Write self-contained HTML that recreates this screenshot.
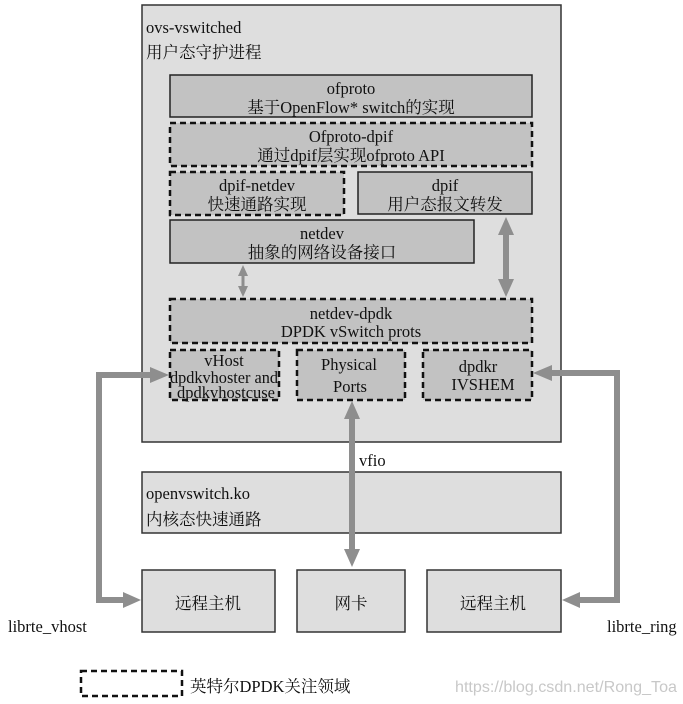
<!DOCTYPE html>
<html><head><meta charset="utf-8"><style>
html,body{margin:0;padding:0;background:#fff;}
svg{display:block;}
text{font-family:"Liberation Serif","Noto Serif CJK SC","Noto Sans CJK SC",serif;font-size:16.5px;fill:#111;}
</style></head><body>
<svg width="683" height="704" viewBox="0 0 683 704" xmlns="http://www.w3.org/2000/svg">
<rect x="142" y="5" width="419" height="437" fill="#dedede" stroke="#333" stroke-width="1.5"/>
<text x="146" y="33">ovs-vswitched</text>
<text x="146" y="58">用户态守护进程</text>

<rect x="170" y="75" width="362" height="42" fill="#c2c2c2" stroke="#222" stroke-width="1.5"/>
<text x="351" y="94" text-anchor="middle">ofproto</text>
<text x="351" y="113" text-anchor="middle">基于OpenFlow* switch的实现</text>

<rect x="170" y="123" width="362" height="43" fill="#c2c2c2" stroke="#111" stroke-width="2.5" stroke-dasharray="6,4"/>
<text x="351" y="142" text-anchor="middle">Ofproto-dpif</text>
<text x="351" y="161" text-anchor="middle">通过dpif层实现ofproto API</text>

<rect x="170" y="172" width="174" height="43" fill="#c2c2c2" stroke="#111" stroke-width="2.5" stroke-dasharray="6,4"/>
<text x="257" y="191" text-anchor="middle">dpif-netdev</text>
<text x="257" y="210" text-anchor="middle">快速通路实现</text>

<rect x="358" y="172" width="174" height="42" fill="#c2c2c2" stroke="#222" stroke-width="1.5"/>
<text x="445" y="191" text-anchor="middle">dpif</text>
<text x="445" y="210" text-anchor="middle">用户态报文转发</text>

<rect x="170" y="220" width="304" height="43" fill="#c2c2c2" stroke="#222" stroke-width="1.5"/>
<text x="322" y="239" text-anchor="middle">netdev</text>
<text x="322" y="258" text-anchor="middle">抽象的网络设备接口</text>

<line x1="243" y1="273" x2="243" y2="289" stroke="#8e8e8e" stroke-width="3"/>
<path d="M238,276 L243,265 L248,276 Z M238,286 L243,297 L248,286 Z" fill="#8e8e8e"/>
<line x1="506" y1="228" x2="506" y2="286" stroke="#8e8e8e" stroke-width="6"/>
<path d="M498,235 L506,217 L514,235 Z M498,279 L506,297 L514,279 Z" fill="#8e8e8e"/>

<rect x="170" y="299" width="362" height="44" fill="#c2c2c2" stroke="#111" stroke-width="2.5" stroke-dasharray="6,4"/>
<text x="351" y="319" text-anchor="middle">netdev-dpdk</text>
<text x="351" y="337" text-anchor="middle">DPDK vSwitch prots</text>

<rect x="170" y="350" width="109" height="50" fill="#c2c2c2" stroke="#111" stroke-width="2.5" stroke-dasharray="6,4"/>
<text x="224" y="366" text-anchor="middle">vHost</text>
<text x="224" y="383" text-anchor="middle" textLength="108" lengthAdjust="spacingAndGlyphs">dpdkvhoster and</text>
<text x="226" y="398" text-anchor="middle" textLength="98" lengthAdjust="spacingAndGlyphs">dpdkvhostcuse</text>

<rect x="297" y="350" width="108" height="50" fill="#c2c2c2" stroke="#111" stroke-width="2.5" stroke-dasharray="6,4"/>
<text x="349" y="370" text-anchor="middle">Physical</text>
<text x="350" y="392" text-anchor="middle">Ports</text>

<rect x="423" y="350" width="109" height="50" fill="#c2c2c2" stroke="#111" stroke-width="2.5" stroke-dasharray="6,4"/>
<text x="478" y="372" text-anchor="middle">dpdkr</text>
<text x="483" y="390" text-anchor="middle">IVSHEM</text>

<rect x="142" y="472" width="419" height="61" fill="#dedede" stroke="#333" stroke-width="1.5"/>
<text x="146" y="499">openvswitch.ko</text>
<text x="146" y="525">内核态快速通路</text>

<rect x="142" y="570" width="133" height="62" fill="#dedede" stroke="#333" stroke-width="1.5"/>
<text x="208" y="609" text-anchor="middle">远程主机</text>
<rect x="297" y="570" width="108" height="62" fill="#dedede" stroke="#333" stroke-width="1.5"/>
<text x="351" y="609" text-anchor="middle">网卡</text>
<rect x="427" y="570" width="134" height="62" fill="#dedede" stroke="#333" stroke-width="1.5"/>
<text x="493" y="609" text-anchor="middle">远程主机</text>

<line x1="352" y1="415" x2="352" y2="553" stroke="#8e8e8e" stroke-width="6"/>
<path d="M344,419 L352,401 L360,419 Z M344,549 L352,567 L360,549 Z" fill="#8e8e8e"/>
<text x="359" y="466">vfio</text>

<path d="M152,375 L99,375 L99,600 L125,600" fill="none" stroke="#8e8e8e" stroke-width="6"/>
<path d="M150,367 L169,375 L150,383 Z M123,592 L141,600 L123,608 Z" fill="#8e8e8e"/>
<path d="M550,373 L617,373 L617,600 L578,600" fill="none" stroke="#8e8e8e" stroke-width="6"/>
<path d="M552,365 L533,373 L552,381 Z M580,592 L562,600 L580,608 Z" fill="#8e8e8e"/>

<text x="8" y="632">librte_vhost</text>
<text x="607" y="632">librte_ring</text>

<rect x="81" y="671" width="101" height="25" fill="#fff" stroke="#111" stroke-width="2.5" stroke-dasharray="6,4"/>
<text x="190" y="692">英特尔DPDK关注领域</text>
<text x="455" y="692" textLength="222" lengthAdjust="spacingAndGlyphs" style="font-family:'Liberation Sans',sans-serif;font-size:16px;fill:#c8c8c8">https://blog.csdn.net/Rong_Toa</text>
</svg>
</body></html>
